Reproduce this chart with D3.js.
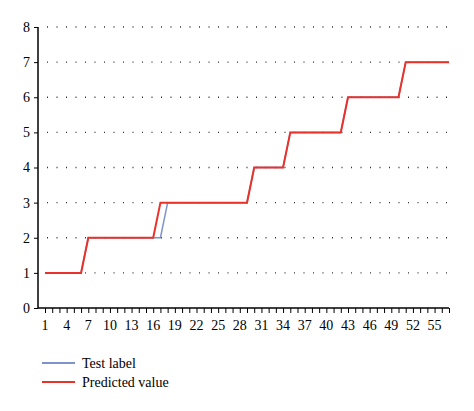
<!DOCTYPE html>
<html><head><meta charset="utf-8">
<script src="https://cdn.jsdelivr.net/npm/d3@7"></script>
<style>body{margin:0;background:#fff;}text{font-family:"Liberation Serif",serif;}</style>
</head><body><script>
"use strict";

const idx = d3.range(1, 58);
const testLabel = [1,1,1,1,1,1, 2,2,2,2,2,2,2,2,2,2,2, 3,3,3,3,3,3,3,3,3,3,3,3, 4,4,4,4,4, 5,5,5,5,5,5,5,5, 6,6,6,6,6,6,6,6, 7,7,7,7,7,7,7];
const predicted = [1,1,1,1,1,1, 2,2,2,2,2,2,2,2,2,2, 3,3,3,3,3,3,3,3,3,3,3,3,3, 4,4,4,4,4, 5,5,5,5,5,5,5,5, 6,6,6,6,6,6,6,6, 7,7,7,7,7,7,7];
const xTicks = d3.range(1, 56, 3);
const yTicks = d3.range(0, 9);

const m = { width: 474, height: 411 };
const svg = d3.select("body").append("svg").attr("width", m.width).attr("height", m.height);

const x = d3.scaleLinear().domain([1, 57]).range([45, 449]);
const y = d3.scaleLinear().domain([0, 8]).range([308, 27]);

const g = svg.append("g");
g.selectAll("line.grid").data(yTicks.slice(1)).enter().append("line")
  .attr("x1", 47).attr("x2", 449)
  .attr("y1", d => y(d)).attr("y2", d => y(d))
  .attr("stroke", "#333").attr("stroke-width", 1.3)
  .attr("stroke-dasharray", "1,8.5");

svg.append("g").attr("transform", "translate(0,308)")
  .call(d3.axisBottom(x).tickValues(idx).tickSize(5).tickFormat(""))
  .call(a => a.select(".domain").remove())
  .selectAll("line").attr("stroke", "#000");
svg.append("line").attr("x1", 38).attr("x2", 449).attr("y1", 308).attr("y2", 308).attr("stroke", "#000").attr("stroke-width", 1.5);
svg.append("g").selectAll("text").data(xTicks).enter().append("text")
  .attr("x", d => x(d)).attr("y", 330).attr("text-anchor", "middle")
  .attr("font-size", 14).text(d => d);

svg.append("g").attr("transform", "translate(38,0)")
  .call(d3.axisLeft(y).tickValues(yTicks).tickSize(4).tickPadding(4))
  .call(a => a.select(".domain").attr("stroke-width", 1.5).attr("d", "M0,27V308"))
  .call(a => a.selectAll("text").attr("font-size", 14).attr("font-family", "Liberation Serif, serif"));

const line = d3.line().x((d, i) => x(idx[i])).y(d => y(d));
svg.append("path").datum(testLabel).attr("d", line).attr("fill", "none").attr("stroke", "#7d93c9").attr("stroke-width", 1.5);
svg.append("path").datum(predicted).attr("d", line).attr("fill", "none").attr("stroke", "#e8322a").attr("stroke-width", 2);

const legend = [["Test label", "#7d93c9"], ["Predicted value", "#e8322a"]];
const lg = svg.append("g").selectAll("g").data(legend).enter().append("g")
  .attr("transform", (d, i) => `translate(42,${363 + i * 19})`);
lg.append("line").attr("x1", 0).attr("x2", 33).attr("stroke", d => d[1]).attr("stroke-width", 1.8);
lg.append("text").attr("x", 40).attr("y", 5).attr("font-size", 14).text(d => d[0]);
</script></body></html>
